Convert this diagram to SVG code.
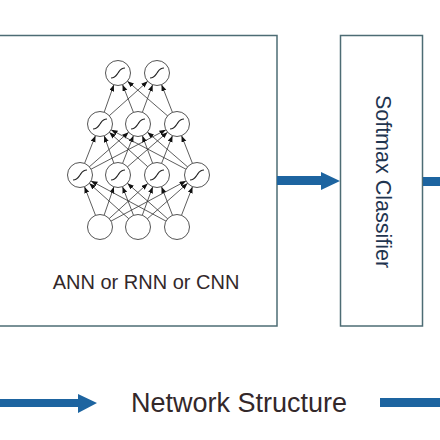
<svg xmlns="http://www.w3.org/2000/svg" width="440" height="440" viewBox="0 0 440 440">
<defs>
<style>
.box{fill:#fff;stroke:#4d6c74;stroke-width:1.5}
.blue{fill:#1d64a0}
.edge{stroke:#333;stroke-width:0.8;fill:none}
.n{fill:#fff;stroke:#555;stroke-width:1}
.sig{fill:none;stroke:#222;stroke-width:1.1}
.lbl{font-family:"Liberation Sans",Arial,sans-serif;fill:#33282a}
</style>
<marker id="ah" markerUnits="userSpaceOnUse" markerWidth="20" markerHeight="8" refX="19" refY="2.5" orient="auto">
<path d="M0,0 L6.5,2.5 L0,5 z" fill="#111"/>
</marker>
<path id="s" d="M-7,5 C-2.5,5 -1.5,2 0,0 C1.5,-2 2.5,-5 7,-5" class="sig"/>
</defs>
<rect width="440" height="440" fill="#fff"/>
<g id="ann-box">
<rect class="box" x="-10" y="35.5" width="287" height="290.5"/>
<text class="lbl" x="146" y="289" font-size="20" text-anchor="middle">ANN or RNN or CNN</text>
</g>
<g id="softmax">
<rect class="box" x="340.5" y="35.5" width="82" height="290.5"/>
<text class="lbl" font-size="21.5" text-anchor="middle" style="fill:#1f3550" transform="translate(376,181.5) rotate(90)">Softmax Classifier</text>
</g>
<g id="connectors">
<path class="blue" d="M277,176 L321,176 L321,172 L340,181 L321,190 L321,185 L277,185 z"/>
<rect class="blue" x="423" y="177" width="17" height="9"/>
<path class="blue" d="M0,399 L78,399 L78,394 L97,403 L78,413 L78,407 L0,407 z"/>
<rect class="blue" x="380" y="398" width="60" height="9"/>
<g class="edge" marker-end="url(#ah)">
<line x1="100" y1="227" x2="80" y2="175"/><line x1="100" y1="227" x2="118" y2="175"/><line x1="100" y1="227" x2="157" y2="175"/><line x1="100" y1="227" x2="197" y2="175"/>
<line x1="138" y1="227" x2="80" y2="175"/><line x1="138" y1="227" x2="118" y2="175"/><line x1="138" y1="227" x2="157" y2="175"/><line x1="138" y1="227" x2="197" y2="175"/>
<line x1="177" y1="227" x2="80" y2="175"/><line x1="177" y1="227" x2="118" y2="175"/><line x1="177" y1="227" x2="157" y2="175"/><line x1="177" y1="227" x2="197" y2="175"/>
<line x1="80" y1="175" x2="100" y2="124"/><line x1="80" y1="175" x2="138" y2="124"/><line x1="80" y1="175" x2="177" y2="124"/>
<line x1="118" y1="175" x2="100" y2="124"/><line x1="118" y1="175" x2="138" y2="124"/><line x1="118" y1="175" x2="177" y2="124"/>
<line x1="157" y1="175" x2="100" y2="124"/><line x1="157" y1="175" x2="138" y2="124"/><line x1="157" y1="175" x2="177" y2="124"/>
<line x1="197" y1="175" x2="100" y2="124"/><line x1="197" y1="175" x2="138" y2="124"/><line x1="197" y1="175" x2="177" y2="124"/>
<line x1="100" y1="124" x2="118" y2="73"/><line x1="100" y1="124" x2="157" y2="73"/>
<line x1="138" y1="124" x2="118" y2="73"/><line x1="138" y1="124" x2="157" y2="73"/>
<line x1="177" y1="124" x2="118" y2="73"/><line x1="177" y1="124" x2="157" y2="73"/>
</g>
</g>
<g id="out1"><circle class="n" cx="118" cy="73" r="12.5"/><use href="#s" x="118" y="73"/></g>
<g id="out2"><circle class="n" cx="157" cy="73" r="12.5"/><use href="#s" x="157" y="73"/></g>
<g id="h2a"><circle class="n" cx="100" cy="124" r="12.5"/><use href="#s" x="100" y="124"/></g>
<g id="h2b"><circle class="n" cx="138" cy="124" r="12.5"/><use href="#s" x="138" y="124"/></g>
<g id="h2c"><circle class="n" cx="177" cy="124" r="12.5"/><use href="#s" x="177" y="124"/></g>
<g id="h1a"><circle class="n" cx="80" cy="175" r="12.5"/><use href="#s" x="80" y="175"/></g>
<g id="h1b"><circle class="n" cx="118" cy="175" r="12.5"/><use href="#s" x="118" y="175"/></g>
<g id="h1c"><circle class="n" cx="157" cy="175" r="12.5"/><use href="#s" x="157" y="175"/></g>
<g id="h1d"><circle class="n" cx="197" cy="175" r="12.5"/><use href="#s" x="197" y="175"/></g>
<g id="in1"><circle class="n" cx="100" cy="227" r="12.5"/></g>
<g id="in2"><circle class="n" cx="138" cy="227" r="12.5"/></g>
<g id="in3"><circle class="n" cx="177" cy="227" r="12.5"/></g>
<g id="footer">
<text class="lbl" x="239" y="412" font-size="27" text-anchor="middle">Network Structure</text>
</g>
</svg>
